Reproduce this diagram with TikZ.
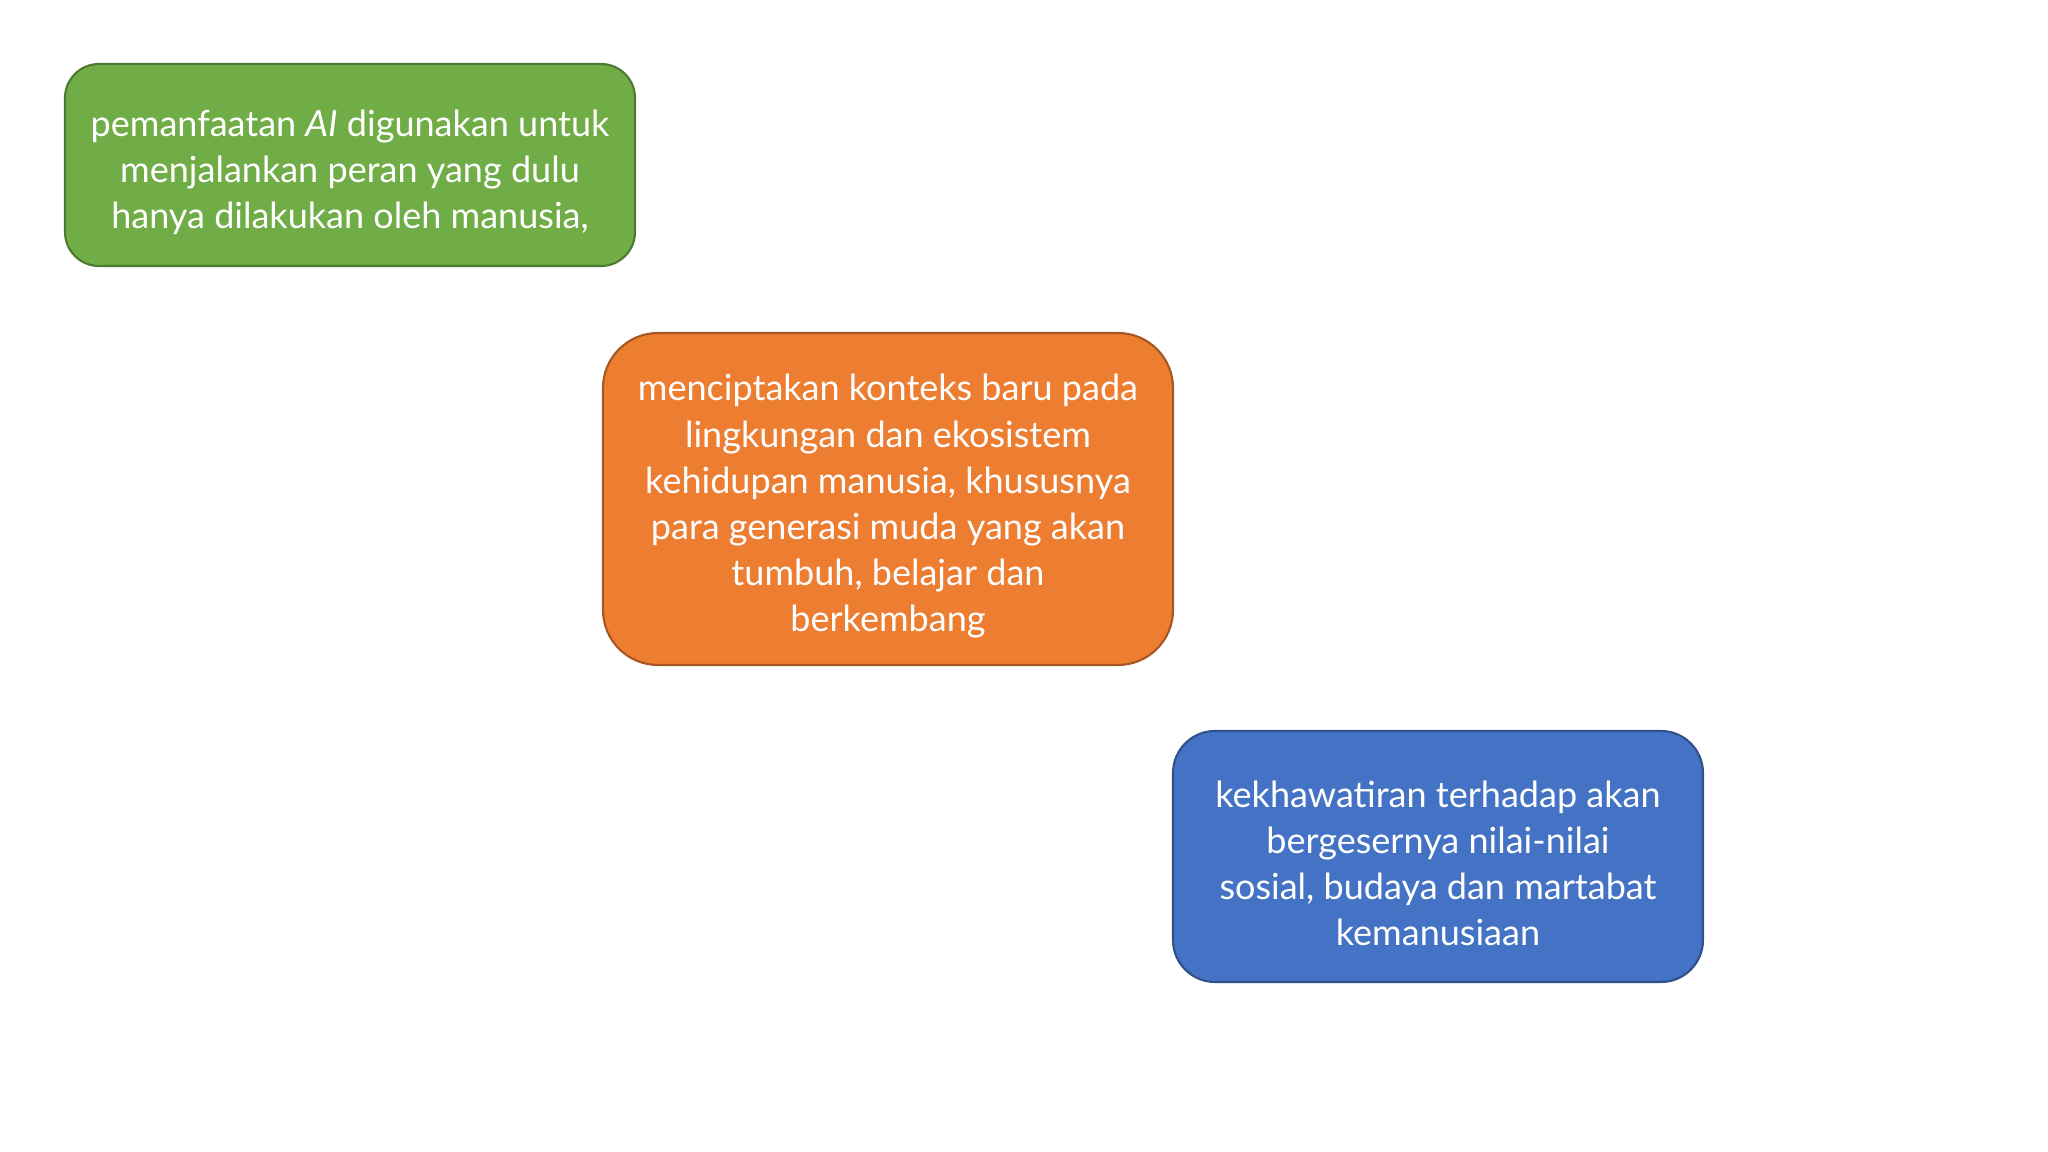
\documentclass[tikz,border=0pt]{standalone}
\usepackage{fontspec}
\setmainfont{Lato}
\usepackage{xcolor}
\usepackage{tikz}

\definecolor{boxgreen}{HTML}{70AD47}
\definecolor{boxorange}{HTML}{ED7D31}
\definecolor{boxblue}{HTML}{4472C4}

\newcommand{\topstrut}{\rule{0pt}{11.6pt}}

\tikzset{
  idea/.style={draw, line width=0.6pt, text=white, align=center,
    inner sep=0pt, font=\fontsize{10.25}{13.1}\selectfont},
}

\begin{document}
\begin{tikzpicture}
  \useasboundingbox[fill=white] (0,0) rectangle (20.48,-11.52);

  \node[idea, fill=boxgreen, draw=boxgreen!70!black, rounded corners=0.34cm,
        minimum width=5.70cm, minimum height=2.02cm] (peran) at (3.50,-1.65)
    {\topstrut pemanfaatan \textit{AI} digunakan untuk\\ menjalankan peran yang dulu\\ hanya dilakukan oleh manusia,};

  \node[idea, fill=boxorange, draw=boxorange!70!black, rounded corners=0.55cm,
        minimum width=5.70cm, minimum height=3.32cm] (konteks) at (8.88,-4.99)
    {\topstrut menciptakan konteks baru pada\\ lingkungan dan ekosistem\\ kehidupan manusia, khususnya\\ para generasi muda yang akan\\ tumbuh, belajar dan\\ berkembang};

  \node[idea, fill=boxblue, draw=boxblue!70!black, rounded corners=0.42cm,
        minimum width=5.30cm, minimum height=2.51cm] (nilai) at (14.38,-8.565)
    {\topstrut kekhawatiran terhadap akan\\ bergesernya nilai-nilai\\ sosial, budaya dan martabat\\ kemanusiaan};
\end{tikzpicture}
\end{document}
